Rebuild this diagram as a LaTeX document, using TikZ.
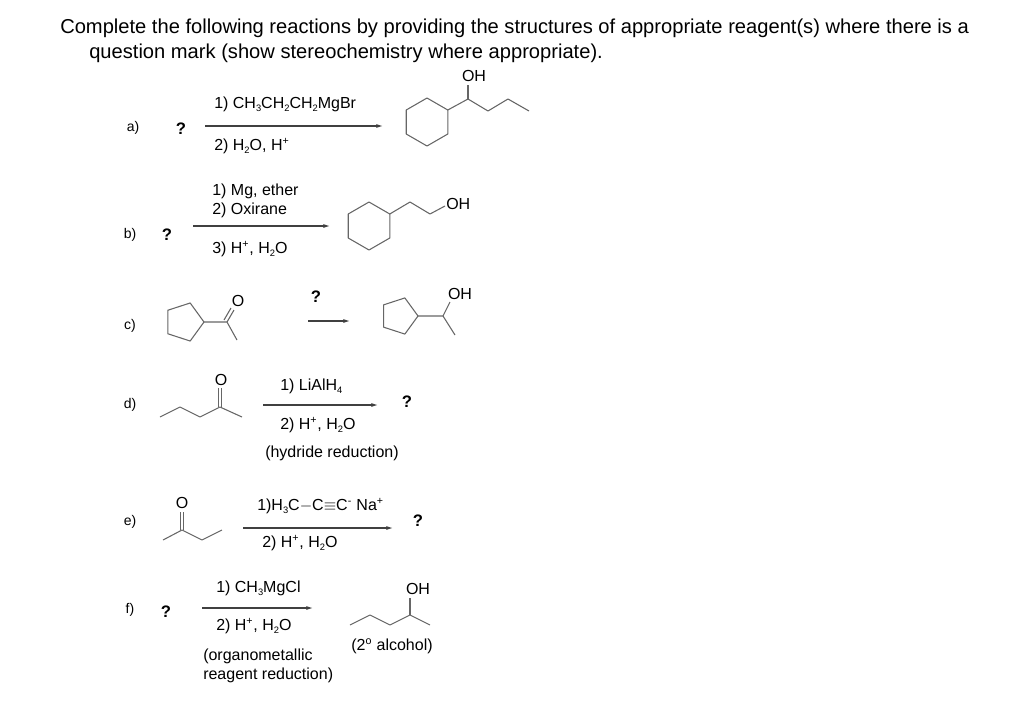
\documentclass[tikz,border=0pt]{standalone}
\usepackage{fontspec}
\setmainfont{Liberation Sans}
\usetikzlibrary{arrows.meta,calc}
\newcommand{\pl}{\textsuperscript{+}}
\newcommand{\sbs}[1]{\raisebox{-0.35ex}{\scriptsize #1}}
\begin{document}
\begin{tikzpicture}[x=0.75pt,y=-0.75pt,
  bond/.style={draw=black!60,line width=0.8pt,line join=round},
  rxn/.style={draw=black!75,line width=0.8pt,-{Latex[length=5pt,width=3pt]}},
  lab/.style={font=\fontsize{10.5}{12}\selectfont,inner sep=0pt},
  txt/.style={font=\fontsize{12}{14}\selectfont,inner sep=0pt,anchor=west},
  q/.style={font=\bfseries\fontsize{12.5}{14}\selectfont,inner sep=0pt}]
\useasboundingbox (0,0) rectangle (1024,704);
\node[anchor=west,inner sep=0pt,font=\fontsize{15.1}{18}\selectfont] (h1) at (60,28) {Complete the following reactions by providing the structures of appropriate reagent(s) where there is a};
\node[anchor=west,inner sep=0pt,font=\fontsize{15.1}{18}\selectfont] (h2) at (89,53) {question mark (show stereochemistry where appropriate).};
% a
\node[lab] (la) at (133,128) {a)};
\node[q] (qa) at (181,129) {?};
\draw[rxn] (205,126) -- (383,126);
\node[txt] (a1) at (214,104) {1) CH\sbs{3}CH\sbs{2}CH\sbs{2}MgBr};
\node[txt] (a2) at (214,146) {2) H\sbs{2}O, H\pl};
\draw[bond] ($(427,122)+(-30:24)$) \foreach \a in {30,90,150,210,270,330}{ -- ($(427,122)+(\a:24)$)} ;
\draw[bond] ($(427,122)+(-30:24)$) -- (468,99) -- (488,111) -- (508,99) -- (529,111);
\draw[bond] (468,99) -- (468,85);
\node[txt,anchor=center] (oha) at (474,76) {OH};
% b
\node[lab] (lb) at (130,235) {b)};
\node[q] (qb) at (167,235) {?};
\draw[rxn] (193,226) -- (330,226);
\node[txt] (b1) at (212,191) {1) Mg, ether};
\node[txt] (b2) at (212,210) {2) Oxirane};
\node[txt] (b3) at (212,249) {3) H\pl, H\sbs{2}O};
\draw[bond] ($(369,226)+(-30:24)$) \foreach \a in {30,90,150,210,270,330}{ -- ($(369,226)+(\a:24)$)} ;
\draw[bond] ($(369,226)+(-30:24)$) -- (410,202) -- (430,214) -- (445,206);
\node[txt] (ohb) at (446,204) {OH};
% c
\node[lab] (lc) at (130,326) {c)};
\draw[bond] ($(184,322)+(0:20)$) \foreach \a in {72,144,216,288,360}{ -- ($(184,322)+(\a:20)$)} ;
\draw[bond] (204,322) -- (227,322) -- (237,340);
\draw[bond] (227,322) -- (234,310);
\draw[bond] (224,320) -- (231,308);
\node[txt,anchor=center] (oc) at (238,301) {O};
\node[q] (qc) at (316,297) {?};
\draw[rxn] (308,321) -- (350,321);
\draw[bond] ($(399,316)+(0:19)$) \foreach \a in {72,144,216,288,360}{ -- ($(399,316)+(\a:19)$)} ;
\draw[bond] (418,316) -- (443,316) -- (455,335);
\draw[bond] (443,316) -- (450,302);
\node[txt,anchor=center] (ohc) at (460,294) {OH};
% d
\node[lab] (ld) at (130,405) {d)};
\draw[bond] (160,417) -- (180,407) -- (200,417) -- (220,407) -- (242,417);
\draw[bond] (218.5,407) -- (218.5,388);
\draw[bond] (221.5,407) -- (221.5,388);
\node[txt,anchor=center] (od) at (221,380) {O};
\draw[rxn] (263,405) -- (378,405);
\node[txt] (d1) at (280,386) {1) LiAlH\sbs{4}};
\node[txt] (d2) at (280,425) {2) H\pl, H\sbs{2}O};
\node[txt] (d3) at (265,453) {(hydride reduction)};
\node[q] (qd) at (407,402) {?};
% e
\node[lab] (le) at (130,522) {e)};
\draw[bond] (163,540) -- (182,530) -- (202,540) -- (222,530);
\draw[bond] (180.5,530) -- (180.5,512);
\draw[bond] (183.5,530) -- (183.5,512);
\node[txt,anchor=center] (oe) at (182,503) {O};
\draw[rxn] (243,528) -- (393,528);
\node[txt] (e1) at (257,506) {1)H\sbs{3}C$-$C$\equiv$C\textsuperscript{-} Na\pl};
\node[txt] (e2) at (262,543) {2) H\pl, H\sbs{2}O};
\node[q] (qe) at (418,521) {?};
% f
\node[lab] (lf) at (130,610) {f)};
\node[q] (qf) at (166,612) {?};
\draw[rxn] (202,608) -- (313,608);
\node[txt] (f1) at (216,588) {1) CH\sbs{3}MgCl};
\node[txt] (f2) at (216,626) {2) H\pl, H\sbs{2}O};
\node[txt,align=left] (f3) at (203,666) {(organometallic\\reagent reduction)};
\draw[bond] (350,625) -- (370,615) -- (390,625) -- (410,615) -- (430,625);
\draw[bond] (410,615) -- (410,598);
\node[txt,anchor=center] (ohf) at (418,589) {OH};
\node[txt,anchor=center] (f4) at (392,646) {(2\textsuperscript{o} alcohol)};
\end{tikzpicture}
\end{document}
